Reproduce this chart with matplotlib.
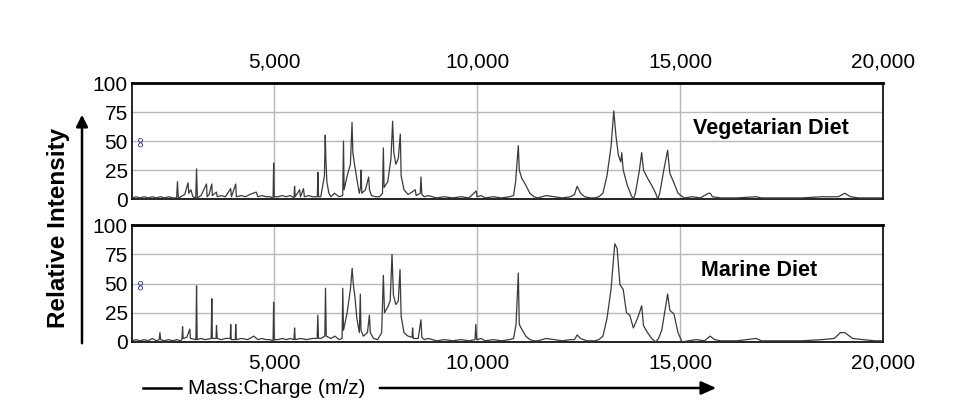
import numpy as np
import matplotlib
matplotlib.use("Agg")
import matplotlib.pyplot as plt

plt.rcParams['font.family'] = ['Liberation Sans', 'DejaVu Sans']

# spectrum vertices: (m/z, relative intensity)
veg_mz = [1500, 1600, 1700, 1800, 1900, 2000, 2100, 2200, 2300, 2400, 2500,
          2600, 2620, 2640, 2700, 2800, 2880, 2900, 2950, 3000, 3070, 3090, 3110,
          3200, 3335, 3350, 3400, 3465, 3480, 3580, 3600, 3700, 3800, 3930, 3950,
          4055, 4070, 4200, 4300, 4400, 4560, 4600, 4700, 4800, 4900,
          4975, 4990, 5005, 5100, 5200, 5300, 5400, 5490, 5505, 5520, 5628, 5650,
          5725, 5745, 5850, 5950, 6065, 6080, 6095, 6150, 6240, 6260, 6275, 6300,
          6350, 6400, 6490, 6600, 6690, 6710, 6725, 6800, 6880, 6920, 6940, 6990,
          7050, 7100, 7130, 7145, 7160, 7250, 7330, 7350, 7400, 7500, 7600, 7670,
          7692, 7710, 7800, 7880, 7920, 7950, 8000, 8060, 8109, 8130, 8200, 8300,
          8400, 8478, 8500, 8600, 8618, 8640, 8700, 8800, 9000, 9200, 9400, 9600,
          9800, 9980, 10000, 10100, 10200, 10400, 10600, 10800, 10900, 10950,
          11016, 11040, 11100, 11200, 11300, 11400, 11500, 11700, 11900, 12100,
          12300, 12400, 12465, 12550, 12650, 12800, 12900, 13000, 13100, 13200,
          13300, 13368, 13420, 13480, 13540, 13564, 13600, 13700, 13800, 13850,
          13900, 14000, 14055, 14100, 14200, 14300, 14400, 14450, 14500, 14600,
          14694, 14750, 14850, 14950, 15100, 15300, 15500, 15700, 15743, 15800,
          16000, 16400, 16880, 17000, 17500, 18000, 18500, 18900, 19060, 19200,
          19400, 19800, 20000]
veg_int = [1, 2, 1, 2, 1, 2, 1, 2, 1, 2, 1,
           1, 15, 1, 2, 4, 14, 5, 8, 2, 1, 26, 1,
           3, 13, 2, 4, 13, 3, 6, 2, 3, 2, 9, 2,
           13, 2, 3, 2, 4, 6, 2, 3, 2, 2,
           1, 31, 2, 2, 3, 2, 3, 1, 11, 2, 8, 2,
           9, 2, 3, 2, 2, 23, 2, 2, 20, 55, 35, 15,
           5, 2, 5, 2, 3, 50, 8, 20, 30, 66, 40, 28,
           15, 5, 10, 25, 5, 8, 19, 8, 3, 2, 2, 5,
           44, 10, 15, 35, 67, 40, 30, 35, 56, 20, 8, 4,
           6, 8, 3, 5, 19, 4, 2, 3, 1, 2, 1, 2,
           1, 7, 2, 3, 1, 2, 1, 2, 3, 15,
           46, 25, 18, 12, 5, 2, 1, 3, 2, 1,
           2, 4, 11, 5, 2, 1, 1, 2, 5, 20,
           45, 76, 55, 38, 32, 40, 25, 12, 3, 0,
           5, 25, 40, 25, 18, 12, 5, 0, 5, 25,
           42, 22, 14, 5, 1, 2, 1, 5, 5, 2,
           1, 1, 2, 1, 1, 1, 2, 2, 5, 2,
           1, 1, 1]

mar_mz = [1500, 1600, 1700, 1800, 1900, 2000, 2100, 2170, 2188, 2205, 2300,
          2400, 2500, 2600, 2700, 2730, 2746, 2760, 2850, 2925, 2940, 3075, 3090,
          3105, 3200, 3300, 3450, 3466, 3480, 3570, 3581, 3600, 3700, 3800, 3920,
          3932, 3945, 4045, 4055, 4070, 4200, 4350, 4500, 4600, 4700, 4800, 4900,
          4975, 4989, 5005, 5100, 5200, 5300, 5400, 5490, 5505, 5520, 5650, 5800,
          5950, 6060, 6077, 6095, 6150, 6250, 6267, 6285, 6400, 6500, 6600, 6675,
          6692, 6710, 6800, 6880, 6923, 6950, 6990, 7040, 7100, 7124, 7140, 7200,
          7300, 7348, 7370, 7450, 7550, 7650, 7692, 7720, 7800, 7860, 7905, 7940,
          8000, 8060, 8102, 8130, 8200, 8300, 8400, 8412, 8430, 8550, 8618, 8640,
          8700, 8800, 9000, 9200, 9400, 9600, 9800, 9950, 9969, 9990, 10100, 10200,
          10400, 10600, 10800, 10900, 10960, 11016, 11040, 11100, 11200, 11300,
          11400, 11500, 11700, 11900, 12100, 12300, 12400, 12466, 12550, 12700,
          12900, 13000, 13100, 13200, 13300, 13392, 13450, 13520, 13600, 13680,
          13760, 13850, 13950, 14000, 14055, 14100, 14200, 14300, 14400, 14470,
          14550, 14620, 14694, 14750, 14850, 14950, 15050, 15200, 15400, 15600,
          15743, 15850, 16000, 16400, 16880, 17000, 17500, 18000, 18500, 18800,
          18950, 19060, 19250, 19500, 19800, 20000]
mar_int = [1, 2, 1, 2, 1, 3, 1, 2, 8, 2, 1,
           2, 1, 2, 1, 2, 13, 3, 4, 11, 3, 2, 48,
           2, 3, 2, 3, 37, 3, 3, 14, 3, 2, 3, 3,
           15, 2, 2, 15, 2, 3, 2, 5, 2, 3, 2, 2,
           1, 34, 2, 2, 3, 2, 3, 2, 12, 2, 3, 2,
           3, 3, 23, 3, 3, 5, 46, 5, 3, 5, 2, 3,
           46, 10, 25, 45, 63, 50, 39, 20, 8, 41, 10, 5,
           8, 23, 8, 3, 2, 8, 57, 25, 30, 35, 75, 40,
           32, 35, 62, 22, 8, 5, 4, 12, 3, 3, 19, 4,
           2, 3, 1, 2, 1, 2, 1, 2, 15, 2, 3, 1,
           2, 1, 2, 3, 15, 59, 15, 11, 5, 2,
           1, 1, 3, 2, 1, 2, 2, 6, 3, 1,
           1, 2, 5, 20, 45, 84, 80, 49, 45, 25,
           23, 12, 20, 25, 31, 14, 8, 3, 0, 3,
           10, 25, 41, 27, 24, 8, 0, 1, 2, 1,
           5, 2, 1, 1, 3, 1, 1, 1, 2, 3,
           8, 8, 3, 2, 1, 1]

x_ticks = [5000, 10000, 15000, 20000]
x_labels = ["5,000", "10,000", "15,000", "20,000"]
y_ticks = [0, 25, 50, 75, 100]
y_labels = ["0", "25", "50", "75", "100"]

fig = plt.figure(figsize=(9.6, 4.13), dpi=100)
ax1 = fig.add_axes([0.1375, 0.518, 0.7823, 0.281])
ax2 = fig.add_axes([0.1375, 0.172, 0.7823, 0.283])

panels = [(ax1, veg_mz, veg_int, "Vegetarian Diet", 17240, 61, True),
          (ax2, mar_mz, mar_int, "Marine Diet", 16940, 61, False)]

for ax, mz, inten, title, tx, ty, top in panels:
    ax.plot(mz, inten, color="#3a3a3a", lw=0.9, zorder=3)
    ax.set_xlim(1500, 20000)
    ax.set_ylim(0, 100)
    ax.set_xticks(x_ticks)
    ax.set_yticks(y_ticks)
    ax.set_yticklabels(y_labels)
    ax.grid(True, color="#b8b8b8", lw=1.0, zorder=0)
    ax.tick_params(length=0, labelsize=15, pad=3)
    if top:
        ax.xaxis.tick_top()
    ax.set_xticklabels(x_labels)
    ax.tick_params(axis="x", pad=8.5)
    for s in ax.spines.values():
        s.set_color("black")
        s.set_linewidth(1.2)
    ax.spines["top"].set_linewidth(2.0)
    ax.text(tx, ty, title, fontsize=15.5, fontweight="bold", ha="center", va="center")
    ax.text(1520, 50, "\u221e", fontsize=11, color="#2b3a8c", rotation=90,
            ha="left", va="center", family="DejaVu Sans")

# side and bottom labels with arrows
fig.text(58 / 960, 1 - 228 / 413, "Relative Intensity", rotation=90, fontsize=17.5,
         fontweight="bold", ha="center", va="center")
fig.add_artist(matplotlib.patches.FancyArrowPatch(
    (82 / 960, 1 - 346 / 413), (82 / 960, 1 - 112 / 413), transform=fig.transFigure,
    arrowstyle="-|>,head_length=7,head_width=3.5", color="black", lw=1.8))

fig.text(188 / 960, 1 - 388 / 413, "Mass:Charge (m/z)", fontsize=15,
         ha="left", va="center")
fig.add_artist(matplotlib.lines.Line2D([143 / 960, 181 / 960], [1 - 388 / 413] * 2,
                                       transform=fig.transFigure, color="black", lw=1.8))
fig.add_artist(matplotlib.patches.FancyArrowPatch(
    (377 / 960, 1 - 388 / 413), (719 / 960, 1 - 388 / 413), transform=fig.transFigure,
    arrowstyle="-|>,head_length=9,head_width=4", color="black", lw=1.8))

fig.savefig("out.png", dpi=100)
